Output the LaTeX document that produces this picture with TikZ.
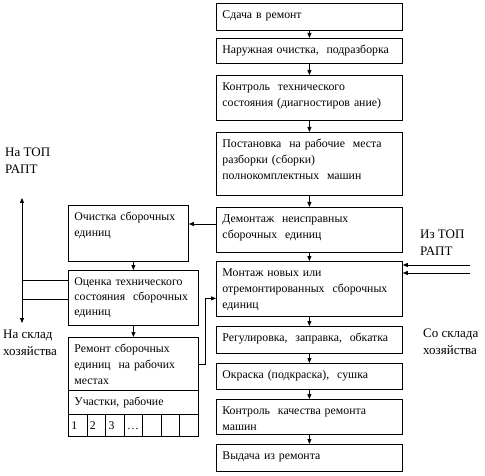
\documentclass[tikz,border=0pt]{standalone}
\usepackage{fontspec}
\setmainfont{LiberationSerif}[Extension=.ttf,UprightFont=*-Regular]
\usetikzlibrary{arrows.meta}
\usetikzlibrary{calc}

\begin{document}
\begin{tikzpicture}[x=1pt,y=-1pt]
        \tikzset{>={Triangle[length=5pt,width=4pt]}}
        \tikzset{stage/.style={draw=black,line width=0.8pt,anchor=north west,align=left,inner xsep=6pt,inner ysep=0pt,text height=15pt,font=\fontsize{11.8}{16}\selectfont}}
        \tikzset{cell/.style={stage,inner xsep=3pt,text width=12.57pt,text depth=7pt}}
        \tikzset{side/.style={anchor=north west,align=left,inner sep=0pt,font=\fontsize{13}{17}\selectfont}}
        \tikzset{link/.style={->,line width=0.8pt}}
        \useasboundingbox (0,0) rectangle (485,476);

        % main line of the repair
        \node [stage, text width=174pt, text depth=12pt] (n0) at (216,3) {Сдача в ремонт};
        \node [stage, text width=174pt, text depth=10pt] (n1) at (216,38) {Наружная очистка,\ \ подразборка};
        \node [stage, text width=174pt, text depth=30pt] (n2) at (216,75) {Контроль\ \ технического\\состояния (диагностиров ание)};
        \node [stage, text width=174pt, text depth=48pt] (n3) at (216,132) {Постановка\ \ на рабочие\ \ места\\разборки (сборки)\\полнокомплектных\ \ машин};
        \node [stage, text width=174pt, text depth=30pt] (n4) at (216,207) {Демонтаж\ \ неисправных\\сборочных\ \ единиц};
        \node [stage, text width=174pt, text depth=40pt] (n5) at (216,261) {Монтаж новых или\\отремонтированных\ \ сборочных\\единиц};
        \node [stage, text width=174pt, text depth=12pt] (n6) at (216,326) {Регулировка,\ \ заправка,\ \ обкатка};
        \node [stage, text width=174pt, text depth=11pt] (n7) at (216,363) {Окраска (подкраска),\ \ сушка};
        \node [stage, text width=174pt, text depth=20pt] (n8) at (216,399) {Контроль\ \ качества ремонта\\машин};
        \node [stage, text width=174pt, text depth=12pt] (n9) at (216,444) {Выдача из ремонта};

        % units of the machine
        \node [stage, text width=108pt, text depth=41pt] (n10) at (68,205) {Очистка сборочных\\единиц};
        \node [stage, text width=118pt, text depth=40pt, font=\fontsize{11.8}{15}\selectfont] (n11) at (68,270) {Оценка технического\\состояния\ \ сборочных\\единиц};
        \node [stage, text width=118pt, text depth=38pt] (n12) at (68,337) {Ремонт сборочных\\единиц\ \ на рабочих\\местах};
        \node [stage, text width=118pt, text depth=9pt] (n13) at (68,390) {Участки, рабочие};
        \foreach \lbl [count=\i from 0] in {1,2,3,…,{},{},{}}
            \node [cell] (c\i) at (68+\i*18.571,414) {\lbl};

        \node [side] (n14) at (5,148) {На ТОП\\РАПТ};
        \node [side] (n15) at (3,330) {На склад\\хозяйства};
        \node [side] (n16) at (420,230) {Из ТОП\\РАПТ};
        \node [side] (n17) at (423,329) {Со склада\\хозяйства};

        \coordinate (t0) at (22,198);
        \coordinate (t1) at (22,323);
        \coordinate (f0) at (470,265);
        \coordinate (f1) at (470,273);

        \foreach \a/\b in {n0/n1,n1/n2,n2/n3,n3/n4,n4/n5,n5/n6,n6/n7,n7/n8,n8/n9}
            \draw [link] (\a.south) -- (\b.north);
        \draw [link] (n4.west |- 0,224) -- (n10.east |- 0,224);
        \draw [link] (n10.south -| n11.north) -- (n11.north);
        \draw [link] (n11.south) -- (n12.north);
        \draw [link] ([yshift=-1.5pt]n11.west) -| (t0);
        \draw [link] ([yshift=17.5pt]n11.west) -| (t1);
        \draw [link] (n12.east) -- ++(7,0) |- ([yshift=-9.5pt]n5.west);
        \draw [link] (f0) -- (f0 -| n5.east);
        \draw [link] (f1) -- (f1 -| n5.east);
\end{tikzpicture}
\end{document}
